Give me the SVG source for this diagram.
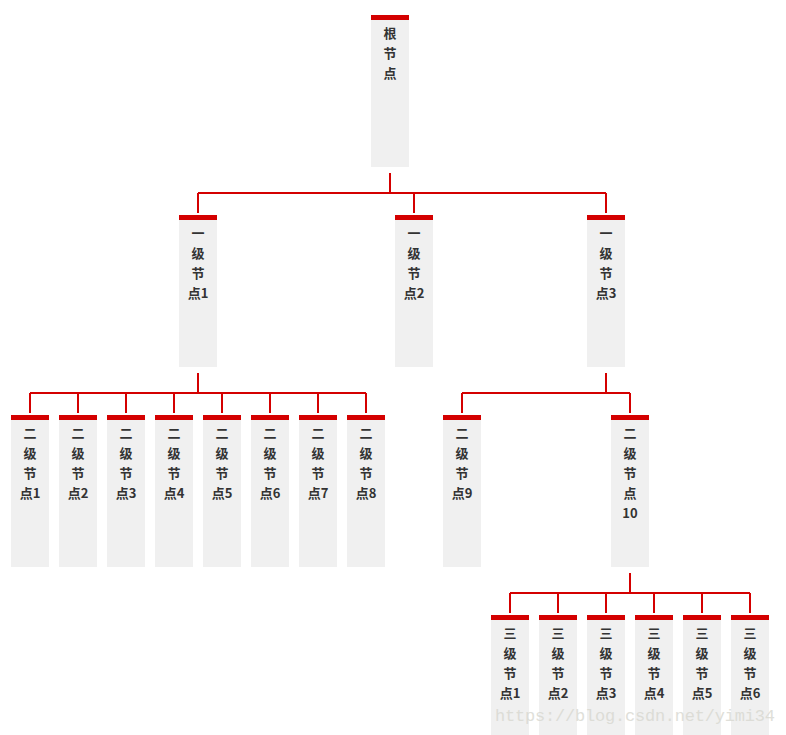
<svg xmlns="http://www.w3.org/2000/svg" width="786" height="735" viewBox="0 0 786 735">
<style>
.bg{fill:#f0f0f0}.bar{fill:#d40000}
.t{font-family:"Noto Sans CJK SC","Liberation Sans",sans-serif;font-size:13px;font-weight:bold;fill:#333;text-anchor:middle}
.c{stroke:#d40000;stroke-width:2;fill:none}
.wm{font-family:"Liberation Mono",monospace;font-size:17px;fill:#d8d8d0;opacity:0.8}
</style>
<defs>
<g id="box"><rect class="bg" x="-19" y="0" width="38" height="152"/><rect class="bar" x="-19" y="0" width="38" height="5"/></g>
</defs>
<rect width="786" height="735" fill="#fff"/>
<g id="connectors">
<path class="c" d="M390 173V193M198 193H606M198 193V213M414 193V213M606 193V213"/>
<path class="c" d="M198 373V393M30 393H366M30 393V413M78 393V413M126 393V413M174 393V413M222 393V413M270 393V413M318 393V413M366 393V413"/>
<path class="c" d="M606 373V393M462 393H630M462 393V413M630 393V413"/>
<path class="c" d="M630 573V593M510 593H750M510 593V613M558 593V613M606 593V613M654 593V613M702 593V613M750 593V613"/>
</g>
<g id="root"><use href="#box" x="390" y="15"/><text class="t" x="390" y="38">根</text><text class="t" x="390" y="58">节</text><text class="t" x="390" y="78">点</text></g>
<g id="l1-1"><use href="#box" x="198" y="215"/><text class="t" x="198" y="238">一</text><text class="t" x="198" y="258">级</text><text class="t" x="198" y="278">节</text><text class="t" x="198" y="298">点1</text></g>
<g id="l1-2"><use href="#box" x="414" y="215"/><text class="t" x="414" y="238">一</text><text class="t" x="414" y="258">级</text><text class="t" x="414" y="278">节</text><text class="t" x="414" y="298">点2</text></g>
<g id="l1-3"><use href="#box" x="606" y="215"/><text class="t" x="606" y="238">一</text><text class="t" x="606" y="258">级</text><text class="t" x="606" y="278">节</text><text class="t" x="606" y="298">点3</text></g>
<g id="l2-1"><use href="#box" x="30" y="415"/><text class="t" x="30" y="438">二</text><text class="t" x="30" y="458">级</text><text class="t" x="30" y="478">节</text><text class="t" x="30" y="498">点1</text></g>
<g id="l2-2"><use href="#box" x="78" y="415"/><text class="t" x="78" y="438">二</text><text class="t" x="78" y="458">级</text><text class="t" x="78" y="478">节</text><text class="t" x="78" y="498">点2</text></g>
<g id="l2-3"><use href="#box" x="126" y="415"/><text class="t" x="126" y="438">二</text><text class="t" x="126" y="458">级</text><text class="t" x="126" y="478">节</text><text class="t" x="126" y="498">点3</text></g>
<g id="l2-4"><use href="#box" x="174" y="415"/><text class="t" x="174" y="438">二</text><text class="t" x="174" y="458">级</text><text class="t" x="174" y="478">节</text><text class="t" x="174" y="498">点4</text></g>
<g id="l2-5"><use href="#box" x="222" y="415"/><text class="t" x="222" y="438">二</text><text class="t" x="222" y="458">级</text><text class="t" x="222" y="478">节</text><text class="t" x="222" y="498">点5</text></g>
<g id="l2-6"><use href="#box" x="270" y="415"/><text class="t" x="270" y="438">二</text><text class="t" x="270" y="458">级</text><text class="t" x="270" y="478">节</text><text class="t" x="270" y="498">点6</text></g>
<g id="l2-7"><use href="#box" x="318" y="415"/><text class="t" x="318" y="438">二</text><text class="t" x="318" y="458">级</text><text class="t" x="318" y="478">节</text><text class="t" x="318" y="498">点7</text></g>
<g id="l2-8"><use href="#box" x="366" y="415"/><text class="t" x="366" y="438">二</text><text class="t" x="366" y="458">级</text><text class="t" x="366" y="478">节</text><text class="t" x="366" y="498">点8</text></g>
<g id="l2-9"><use href="#box" x="462" y="415"/><text class="t" x="462" y="438">二</text><text class="t" x="462" y="458">级</text><text class="t" x="462" y="478">节</text><text class="t" x="462" y="498">点9</text></g>
<g id="l2-10"><use href="#box" x="630" y="415"/><text class="t" x="630" y="438">二</text><text class="t" x="630" y="458">级</text><text class="t" x="630" y="478">节</text><text class="t" x="630" y="498">点</text><text class="t" x="630" y="518">10</text></g>
<g id="l3-1"><use href="#box" x="510" y="615"/><text class="t" x="510" y="638">三</text><text class="t" x="510" y="658">级</text><text class="t" x="510" y="678">节</text><text class="t" x="510" y="698">点1</text></g>
<g id="l3-2"><use href="#box" x="558" y="615"/><text class="t" x="558" y="638">三</text><text class="t" x="558" y="658">级</text><text class="t" x="558" y="678">节</text><text class="t" x="558" y="698">点2</text></g>
<g id="l3-3"><use href="#box" x="606" y="615"/><text class="t" x="606" y="638">三</text><text class="t" x="606" y="658">级</text><text class="t" x="606" y="678">节</text><text class="t" x="606" y="698">点3</text></g>
<g id="l3-4"><use href="#box" x="654" y="615"/><text class="t" x="654" y="638">三</text><text class="t" x="654" y="658">级</text><text class="t" x="654" y="678">节</text><text class="t" x="654" y="698">点4</text></g>
<g id="l3-5"><use href="#box" x="702" y="615"/><text class="t" x="702" y="638">三</text><text class="t" x="702" y="658">级</text><text class="t" x="702" y="678">节</text><text class="t" x="702" y="698">点5</text></g>
<g id="l3-6"><use href="#box" x="750" y="615"/><text class="t" x="750" y="638">三</text><text class="t" x="750" y="658">级</text><text class="t" x="750" y="678">节</text><text class="t" x="750" y="698">点6</text></g>
<text class="wm" x="495" y="721" textLength="280">https://blog.csdn.net/yimi34</text>
</svg>
